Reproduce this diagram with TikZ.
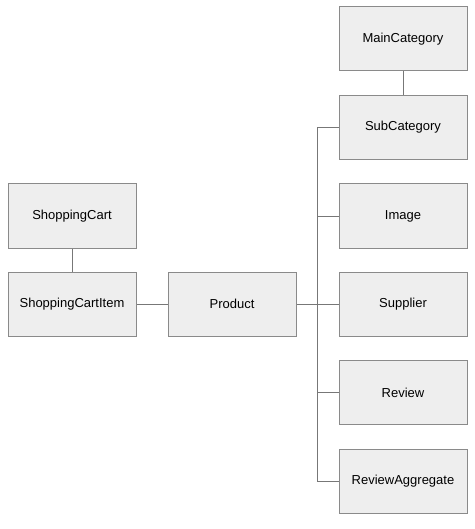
\documentclass[tikz,border=0pt]{standalone}
\usepackage{fontspec}
\setmainfont{Liberation Sans}
\usepackage{tikz}
\usetikzlibrary{positioning}

\definecolor{boxfill}{HTML}{EEEEEE}
\definecolor{boxline}{HTML}{8A8A8A}
\definecolor{linkline}{HTML}{777777}

\tikzset{
	entity/.style={draw=boxline, fill=boxfill, line width=1pt, minimum width=128pt, minimum height=64pt, inner sep=0pt, font=\fontsize{13}{15}\selectfont},
	link/.style={draw=linkline, line width=1pt}
}

\begin{document}
\begin{tikzpicture}[x=1pt, y=-1pt]
	\useasboundingbox (0, 0) rectangle (474, 529);
	\node [entity]	(ShoppingCart)		at (72, 216)	{ShoppingCart};
	\node [entity]	(ShoppingCartItem)	at (72, 304)	{ShoppingCartItem}
		edge [link] (ShoppingCart);
	\node [entity]	(Product)			at (232, 304)	{Product}
		edge [link] (ShoppingCartItem);
	\node [entity]	(MainCategory)		at (403, 39)	{MainCategory};
	\node [entity]	(SubCategory)		at (403, 127.5)	{SubCategory}
		edge [link] (MainCategory);
	\node [entity]	(Image)				at (403, 216)	{Image};
	\node [entity]	(Supplier)			at (403, 304)	{Supplier};
	\node [entity]	(Review)			at (403, 392.5)	{Review};
	\node [entity]	(ReviewAggregate)	at (403, 481)	{ReviewAggregate};
	% branch point of the product relations
	\coordinate (Trunk) at (317, 304);
	\draw [link] (Product.east) -- (Trunk);
	\foreach \target in {SubCategory, Image, Supplier, Review, ReviewAggregate}
		\draw [link] (Trunk) |- (\target.west);
\end{tikzpicture}
\end{document}
